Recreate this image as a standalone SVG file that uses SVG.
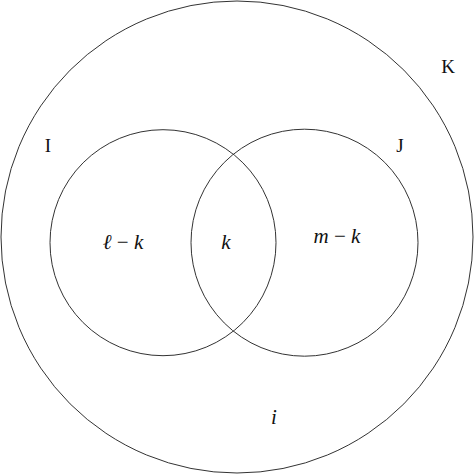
<svg xmlns="http://www.w3.org/2000/svg" width="474" height="474" viewBox="0 0 474 474">
<style>
.c{fill:none;stroke:#333;stroke-width:1}
.t{font-family:"Liberation Serif","DejaVu Serif",serif;font-size:19px;fill:#111;text-anchor:middle}
.m{font-family:"Liberation Serif","DejaVu Serif",serif;font-style:italic;font-size:21px}
</style>
<rect width="474" height="474" fill="#fff"/>
<g id="K"><circle class="c" cx="237" cy="237" r="236"/><text class="t" x="448" y="73">K</text></g>
<g id="I"><circle class="c" cx="163" cy="242.7" r="113"/><text class="t" x="48" y="152">I</text></g>
<g id="J"><circle class="c" cx="304.5" cy="242.7" r="113.5"/><text class="t" x="400" y="152">J</text></g>
<g id="labels">
<text class="t" x="123" y="249"><tspan class="m">ℓ</tspan><tspan font-size="21"> − </tspan><tspan class="m">k</tspan></text>
<text class="t m" x="226" y="249">k</text>
<text class="t" x="337" y="243"><tspan class="m">m</tspan><tspan font-size="21"> − </tspan><tspan class="m">k</tspan></text>
<text class="t m" x="274" y="424">i</text>
</g>
<g id="connectors"/>
</svg>
